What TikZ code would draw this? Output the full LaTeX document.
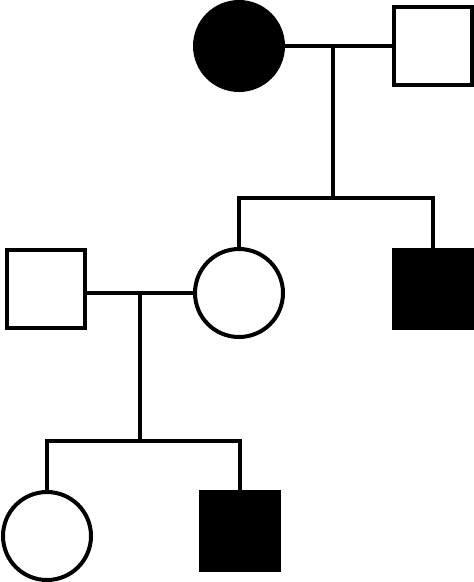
\documentclass[tikz,border=0pt]{standalone}
\begin{document}
\begin{tikzpicture}[x=1pt, y=-1pt, line width=4pt,
  male/.style={draw, rectangle, minimum size=78pt, inner sep=0pt},
  female/.style={draw, circle, minimum size=88pt, inner sep=0pt},
  affected/.style={fill=black}]
\useasboundingbox (0,0) rectangle (474,582);
% 第一代
\node[female, affected] (A) at (239,46) {};
\node[male] (B) at (432.5,46) {};
% 第二代
\node[male] (C) at (46,289) {};
\node[female] (D) at (239,293) {};
\node[male, affected] (E) at (433,289) {};
% 第三代
\node[female] (F) at (47,536) {};
\node[male, affected] (G) at (239.5,531) {};
% 婚配线
\draw (A.east) -- (B.west);
\draw (D.west) -- (D.west -| C.east);
% 子代线
\coordinate (AB) at (333,46);
\coordinate (s1) at (333,198);
\draw (AB) -- (s1);
\draw (D.north) -- (D.north |- s1) -- (E.north |- s1) -- (E.north);
\coordinate (CD) at (140,293);
\coordinate (s2) at (140,441);
\draw (CD) -- (s2);
\draw (F.north) -- (F.north |- s2) -- (G.north |- s2) -- (G.north);
\end{tikzpicture}
\end{document}
